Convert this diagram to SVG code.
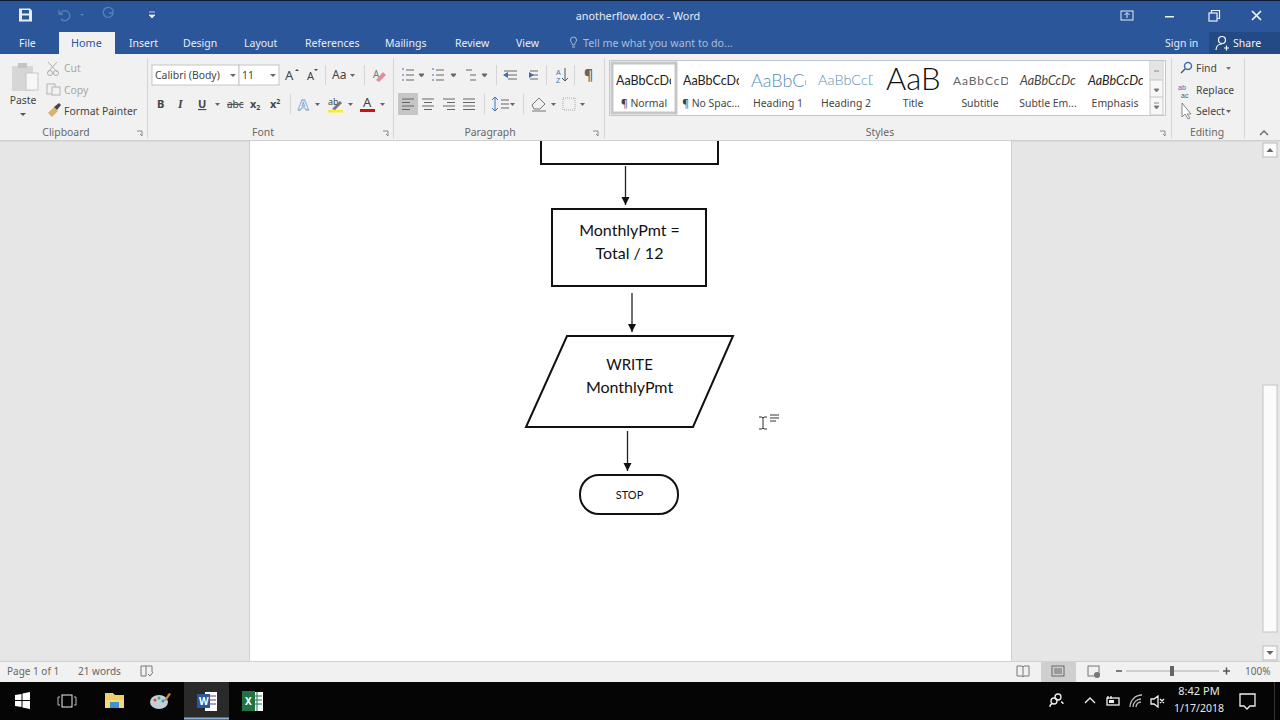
<svg xmlns="http://www.w3.org/2000/svg" width="1280" height="720" viewBox="0 0 1280 720">
<style>
text{font-family:"Noto Sans","Open Sans","Liberation Sans",sans-serif;font-size:10.4px;fill:#444}
.t{fill:#e6ecf5;font-size:10.5px}
.g{fill:#666}
.d{fill:#a8a8a8}
.m{text-anchor:middle}
.c{font-family:Lato,"Liberation Sans",sans-serif;font-size:16px;fill:#111;text-anchor:middle}
.sh{fill:#fff;stroke:#111;stroke-width:2}
.cn{stroke:#222;stroke-width:1.3;fill:none;marker-end:url(#a)}
.i{fill:none;stroke:#555;stroke-width:1}
.sep{stroke:#d4d4d4;stroke-width:1}
.w{fill:none;stroke:#f0f0f0;stroke-width:1.3}
.s{font-family:Lato,"Liberation Sans",sans-serif}
</style>
<defs>
<marker id="a" markerUnits="userSpaceOnUse" markerWidth="9" markerHeight="9" refX="8" refY="4" orient="auto"><path d="M0 0L8 4L0 8Z" fill="#111"/></marker>
<clipPath id="c1"><rect x="614" y="68" width="57" height="24"/></clipPath>
<clipPath id="c2"><rect x="681" y="68" width="58" height="24"/></clipPath>
<clipPath id="c3"><rect x="749" y="68" width="57" height="24"/></clipPath>
<clipPath id="c4"><rect x="816" y="68" width="57" height="24"/></clipPath>
<clipPath id="c5"><rect x="880" y="67" width="64" height="25"/></clipPath>
<clipPath id="c6"><rect x="951" y="68" width="57" height="24"/></clipPath>
<clipPath id="c7"><rect x="1018" y="68" width="58" height="24"/></clipPath>
<clipPath id="c8"><rect x="1086" y="68" width="57" height="24"/></clipPath>
</defs>
<g id="window-bg">
<rect width="1280" height="720" fill="#e6e6e6"/>
<rect width="1280" height="54" fill="#2b579a"/>
<rect width="1280" height="1" fill="#0c1a33"/>
<rect y="54" width="1280" height="86" fill="#f1f1f1"/>
<rect y="140" width="1280" height="1.5" fill="#cfcfcf"/>
<rect x="250" y="141" width="761" height="520" fill="#fff"/>
<rect x="249" y="141" width="1" height="520" fill="#d0d0d0"/>
<rect x="1011" y="141" width="1" height="520" fill="#d0d0d0"/>
</g>
<g id="title-bar">
<path d="M19 8.500h11l2 2v11h-13z" fill="#e8edf5"/><rect x="22" y="10" width="7" height="3.500" fill="#2b579a"/><rect x="22" y="15.500" width="7" height="4" fill="#2b579a"/>
<path d="M60 14a5 5 0 1 1 1 5M59 10v4h4" fill="none" stroke="#5f80b3" stroke-width="1.300"/>
<path d="M80 14h4l-2 2z" fill="#5f80b3"/>
<path d="M113 14a5 5 0 1 1-1-5M113 9v4h-4" fill="none" stroke="#5f80b3" stroke-width="1.300"/>
<path d="M149 12h6M149 15h6l-3 3z" fill="#e6ecf5" stroke="#e6ecf5" stroke-width=".8"/>
<text class="t m" x="638" y="20" style="font-size:10.800px">anotherflow.docx - Word</text>
<rect x="1121" y="11" width="12" height="9" fill="none" stroke="#e6ecf5"/><path d="M1127 18v-5M1124.500 15l2.500-2.500 2.500 2.500" fill="none" stroke="#e6ecf5"/>
<rect x="1165" y="16" width="9" height="1.500" fill="#f0f0f0"/>
<rect x="1209" y="13" width="8" height="8" fill="none" stroke="#f0f0f0" stroke-width="1.200"/><path d="M1211.500 13v-2.500h8v8h-2.500" fill="none" stroke="#f0f0f0" stroke-width="1.200"/>
<path d="M1252 11l9 9M1261 11l-9 9" stroke="#f5f5f5" stroke-width="1.700"/>
</g>
<g id="tabs">
<rect x="59" y="32" width="56" height="22" fill="#f1f1f1"/>
<text class="t" x="19" y="47">File</text>
<text x="71" y="47" style="font-size:10.800px;fill:#2b579a">Home</text>
<text class="t" x="129" y="47">Insert</text>
<text class="t" x="183" y="47">Design</text>
<text class="t" x="244" y="47">Layout</text>
<text class="t" x="305" y="47">References</text>
<text class="t" x="385" y="47">Mailings</text>
<text class="t" x="455" y="47">Review</text>
<text class="t" x="516" y="47">View</text>
<path d="M572 47h3M570.500 40a3 3 0 1 1 6 0c0 2-2 3-2 5h-2c0-2-2-3-2-5z" fill="none" stroke="#a9bcd8"/>
<text x="583" y="47" style="font-size:10.700px;fill:#a9bcd8">Tell me what you want to do...</text>
<text class="t" x="1165" y="47">Sign in</text>
<rect x="1209" y="32" width="71" height="22" fill="#234a85"/>
<circle cx="1222" cy="40" r="3.500" fill="none" stroke="#fff" stroke-width="1.200"/><path d="M1216 50c0-4 3-6 6-6M1224 48h5M1226.500 45.500v5" fill="none" stroke="#fff" stroke-width="1.200"/>
<text x="1233" y="47" style="font-size:10.500px;fill:#f0f0f0">Share</text>
</g>
<g id="clipboard">
<rect x="12" y="66" width="21" height="25" fill="#d6d6d6"/><rect x="26" y="73" width="12" height="17" fill="#f7f7f7" stroke="#c8c8c8"/><rect x="18" y="63" width="9" height="5" fill="#c4c4c4"/>
<text class="m" x="23" y="104">Paste</text><path d="M20 113h6l-3 3z" fill="#555"/>
<path d="M48 62l9 10M57 62l-9 10" stroke="#b0b0b0"/><circle cx="50" cy="73" r="2.500" class="i" style="stroke:#b0b0b0"/><circle cx="56" cy="73" r="2.500" class="i" style="stroke:#b0b0b0"/>
<text class="d" x="64" y="72">Cut</text>
<rect x="47" y="84" width="8" height="10" fill="none" stroke="#b4b4b4"/><rect x="52" y="87" width="8" height="8" fill="#f1f1f1" stroke="#b4b4b4"/>
<text class="d" x="64" y="94">Copy</text>
<path d="M48 113l6-6 4 4-6 6z" fill="#d8b468"/><path d="M54 107l5-4 2 2-4 5z" fill="#444"/>
<text x="64" y="115">Format Painter</text>
<text class="g m" x="66" y="136">Clipboard</text>
<path d="M137 131h5v5M140 134l2 2" class="i" style="stroke:#888"/>
<line class="sep" x1="147.500" y1="58" x2="147.500" y2="138"/>
</g>
<g id="font">
<rect x="152" y="65" width="87" height="20" fill="#fff" stroke="#c6c6c6"/><rect x="239" y="65" width="40" height="20" fill="#fff" stroke="#c6c6c6"/>
<text x="155" y="79">Calibri (Body)</text><path d="M230 74h6l-3 3z" fill="#666"/>
<text x="242" y="79">11</text><path d="M270 74h6l-3 3z" fill="#666"/>
<text x="285" y="80" style="font-size:13px">A</text><path d="M295 71l2-2 2 2z" fill="#444"/>
<text x="307" y="80" style="font-size:11px">A</text><path d="M314 69h4l-2 2z" fill="#444"/>
<line class="sep" x1="325.500" y1="65" x2="325.500" y2="85"/>
<text x="332" y="79" style="font-size:12px">Aa</text><path d="M350 74h5l-2.500 3z" fill="#666"/>
<line class="sep" x1="364.500" y1="65" x2="364.500" y2="85"/>
<text x="373" y="78" style="font-size:10px;fill:#777">A</text><path d="M376 80l7-8 3 3-7 7z" fill="#e88a9a"/>
<text x="157" y="108" style="font-weight:bold;font-size:11px">B</text>
<text x="178" y="108" style="font-style:italic;font-family:'Liberation Serif',serif;font-size:12px;font-weight:bold">I</text>
<text x="198" y="108" style="font-weight:bold;font-size:11px;text-decoration:underline">U</text><path d="M215 103h5l-2.500 3z" fill="#666"/>
<text x="227" y="108" style="font-size:10px;text-decoration:line-through">abc</text>
<text x="250" y="108" style="font-weight:bold;font-size:11px">x<tspan dy="2" style="font-size:7px">2</tspan></text>
<text x="270" y="108" style="font-weight:bold;font-size:11px">x<tspan dy="-4" style="font-size:7px">2</tspan></text>
<line class="sep" x1="290.500" y1="94" x2="290.500" y2="114"/>
<text x="298" y="110" style="font-size:15px;font-weight:bold;fill:#fff;stroke:#6f9bd1;stroke-width:.8">A</text><path d="M315 103h5l-2.500 3z" fill="#666"/>
<text x="328" y="105" style="font-size:9px">ab</text><path d="M332 109l8-8 2 2-7 7z" fill="#777"/><rect x="328" y="110" width="15" height="2.500" fill="#f5ee30"/><path d="M348 103h5l-2.500 3z" fill="#666"/>
<text x="363" y="107" style="font-size:13px;fill:#444">A</text><rect x="360" y="109" width="15" height="3" fill="#d01010"/><path d="M380 103h5l-2.500 3z" fill="#666"/>
<text class="g m" x="263" y="136">Font</text>
<path d="M383 131h5v5M386 134l2 2" class="i" style="stroke:#888"/>
<line class="sep" x1="393.500" y1="58" x2="393.500" y2="138"/>
</g>
<g id="paragraph">
<path d="M406 70h8M406 75h8M406 80h8M419 74h5l-2.500 3zM436 70h8M436 75h8M436 80h8M451 74h5l-2.500 3zM466 70h6M470 75h6M470 80h6M482 74h5l-2.500 3z" stroke="#666" fill="#666"/>
<path d="M402 69h2M402 75h2M402 80h2M432 69h2M432 75h2M432 80h2" stroke="#3f6fb0"/>
<line class="sep" x1="496.500" y1="65" x2="496.500" y2="85"/>
<path d="M504 75h13M504 71h13M508 79h9M530 71h8M530 75h8M530 79h8" stroke="#666"/><path d="M503 75l5-3v6zM529 72l5 3-5 3z" fill="#3f6fb0"/>
<line class="sep" x1="546.500" y1="65" x2="546.500" y2="85"/>
<text x="556" y="75" style="font-family:'Liberation Sans',sans-serif;font-size:7px;fill:#3f6fb0">A</text><text x="556" y="83" style="font-family:'Liberation Sans',sans-serif;font-size:7px;fill:#3f6fb0">Z</text><path d="M565 68v13M562 78l3 3 3-3" fill="none" stroke="#555"/>
<line class="sep" x1="574.500" y1="65" x2="574.500" y2="85"/>
<text x="584" y="80" style="font-size:14px;font-weight:bold;fill:#666">¶</text>
<rect x="398" y="93" width="20" height="22" fill="#c6c6c6"/>
<path d="M402 99h12M402 102.500h8M402 106h12M402 109.500h8M422 99h12M424 102.500h8M422 106h12M424 109.500h8M443 99h12M447 102.500h8M443 106h12M447 109.500h8M463 99h12M463 102.500h12M463 106h12M463 109.500h12" stroke="#666"/>
<line class="sep" x1="484.500" y1="94" x2="484.500" y2="114"/>
<path d="M495 97v14M492 100l3-3 3 3M492 108l3 3 3-3" fill="none" stroke="#3f6fb0"/><path d="M501 100h8M501 104h8M501 108h8" stroke="#666"/><path d="M510 103h5l-2.500 3z" fill="#666"/>
<line class="sep" x1="523.500" y1="94" x2="523.500" y2="114"/>
<path d="M532 105l7-7 6 6-5 5h-6zM532 111h14" fill="none" stroke="#777"/><path d="M551 103h5l-2.500 3z" fill="#666"/>
<rect x="563" y="98" width="12" height="12" fill="none" stroke="#aaa" stroke-dasharray="1 1"/><path d="M580 103h5l-2.500 3z" fill="#666"/>
<text class="g m" x="490" y="136">Paragraph</text>
<path d="M593 131h5v5M596 134l2 2" class="i" style="stroke:#888"/>
<line class="sep" x1="604.500" y1="58" x2="604.500" y2="138"/>
</g>
<g id="styles">
<rect x="609.500" y="60.500" width="556" height="55" fill="#fff" stroke="#c6c6c6"/>
<rect x="612" y="63" width="64" height="50" fill="#fff" stroke="#c6c6c6" stroke-width="3"/>
<text class="s" clip-path="url(#c1)" x="616" y="85" style="font-size:12.500px;fill:#222">AaBbCcDc</text>
<text class="s" clip-path="url(#c2)" x="683" y="85" style="font-size:12.500px;fill:#222">AaBbCcDc</text>
<text class="s" clip-path="url(#c3)" x="751" y="87" style="font-size:18px;font-weight:300;fill:#5a8fb5">AaBbCc</text>
<text class="s" clip-path="url(#c4)" x="818" y="85" style="font-size:14.500px;font-weight:300;fill:#5a8fb5">AaBbCcD</text>
<text class="s" clip-path="url(#c5)" x="886" y="90" style="font-size:31px;font-weight:300;fill:#111">AaB</text>
<text class="s" clip-path="url(#c6)" x="953" y="85" style="font-size:12px;letter-spacing:.9px;fill:#666">AaBbCcD</text>
<text class="s" clip-path="url(#c7)" x="1020" y="85" style="font-size:12.500px;font-style:italic;fill:#444">AaBbCcDc</text>
<text class="s" clip-path="url(#c8)" x="1088" y="85" style="font-size:12.500px;font-style:italic;fill:#222">AaBbCcDc</text>
<text class="m" x="644" y="107">¶ Normal</text>
<text class="m" x="711" y="107">¶ No Spac...</text>
<text class="m" x="778" y="107">Heading 1</text>
<text class="m" x="846" y="107">Heading 2</text>
<text class="m" x="913" y="107">Title</text>
<text class="m" x="980" y="107">Subtitle</text>
<text class="m" x="1048" y="107">Subtle Em...</text>
<text class="m" x="1115" y="107">Emphasis</text>
<rect x="1150" y="61" width="13" height="54" fill="#f7f7f7" stroke="#c6c6c6"/>
<rect x="1150.500" y="61" width="12" height="19" fill="#e4e4e4"/>
<path d="M1154 71h5M1154 89h5l-2.500 3zM1154 103h5M1154 106h5l-2.500 3z" stroke="#888" fill="#666"/>
<path d="M1150 80h13M1150 97h13" stroke="#c6c6c6"/>
<text class="g m" x="880" y="136">Styles</text>
<path d="M1160 131h5v5M1163 134l2 2" class="i" style="stroke:#888"/>
<line class="sep" x1="1171.500" y1="58" x2="1171.500" y2="138"/>
</g>
<g id="editing">
<circle cx="1188" cy="66" r="3.500" fill="none" stroke="#3f6fb0" stroke-width="1.500"/><path d="M1185 69l-4 4" stroke="#555" stroke-width="1.500"/>
<text x="1196" y="72">Find</text><path d="M1226 67h5l-2.500 3z" fill="#777"/>
<text x="1178" y="90" style="font-family:'Liberation Sans',sans-serif;font-size:7px;fill:#3f6fb0">ab</text><text x="1181" y="98" style="font-family:'Liberation Sans',sans-serif;font-size:7px;fill:#555">ac</text>
<text x="1196" y="94">Replace</text>
<path d="M1182 103v14l3-3 3 5 2-1-3-4h4z" fill="#fff" stroke="#888"/>
<text x="1196" y="115">Select</text><path d="M1226 110h5l-2.500 3z" fill="#666"/>
<text class="g m" x="1207" y="136">Editing</text>
<line class="sep" x1="1244.500" y1="58" x2="1244.500" y2="138"/>
<path d="M1260 135l4-4 4 4" fill="none" stroke="#666" stroke-width="1.300"/>
</g>
<g id="scrollbar">
<rect x="1263" y="143" width="14" height="14" fill="#fbfbfb" stroke="#bbb"/><path d="M1266.500 152l3.500-4 3.500 4z" fill="#666"/>
<rect x="1263" y="385" width="14" height="247" fill="#fbfbfb" stroke="#c4c4c4"/>
<rect x="1263" y="646" width="14" height="14" fill="#fbfbfb" stroke="#bbb"/><path d="M1266.500 651l3.500 4 3.500-4z" fill="#666"/>
</g>
<g id="connectors">
<line class="cn" x1="625.500" y1="166" x2="625.500" y2="205"/>
<line class="cn" x1="632" y1="293" x2="632" y2="332"/>
<line class="cn" x1="627.500" y1="431" x2="627.500" y2="471"/>
</g>
<g id="node-top"><path class="sh" d="M541 141V164H718V141"/></g>
<g id="node-monthly"><rect class="sh" x="552" y="209" width="154" height="77"/><text class="c" x="629.500" y="236">MonthlyPmt =</text><text class="c" x="629.500" y="259">Total / 12</text></g>
<g id="node-write"><path class="sh" d="M567 336H733L693 427H526Z"/><text class="c" x="629.500" y="370" style="font-size:15px">WRITE</text><text class="c" x="629.500" y="393">MonthlyPmt</text></g>
<g id="node-stop"><rect class="sh" x="580" y="475" width="98" height="39" rx="19" ry="19"/><text class="m" x="629.500" y="499" style="font-family:Lato,'Liberation Sans',sans-serif;font-size:11px;fill:#111">STOP</text></g>
<g id="cursor"><path d="M759 417h3l1 1 1-1h3M763 418v10M759 429h3l1-1 1 1h3" fill="none" stroke="#333"/><path d="M770 415h9M770 418h9M770 421h6" stroke="#333"/></g>
<g id="status-bar">
<rect y="661" width="1280" height="21" fill="#f1f1f1"/><rect y="661" width="1280" height="1" fill="#d0d0d0"/>
<text class="g" x="7" y="675" style="font-size:10px">Page 1 of 1</text><text class="g" x="78" y="675" style="font-size:10px">21 words</text>
<path d="M141 666h5v10h-5zM146 666h6v6M148 674l2 2 3-4" fill="none" stroke="#777"/>
<rect x="1041" y="662" width="35" height="20" fill="#cfcfcf"/>
<path d="M1017 666h5l1 1 1-1h5v10h-5l-1 1-1-1h-5zM1023 667v10" fill="none" stroke="#777"/>
<rect x="1052" y="666" width="12" height="10" fill="none" stroke="#666"/><path d="M1054 669h8M1054 671h8M1054 673h8" stroke="#666"/>
<rect x="1088" y="666" width="11" height="10" fill="none" stroke="#777"/><circle cx="1097" cy="675" r="3" fill="#777"/>
<path d="M1116 671h6M1223 671h7M1226.500 667.500v7" stroke="#555" stroke-width="1.500"/>
<line x1="1126" y1="671" x2="1219" y2="671" stroke="#aaa"/><rect x="1170" y="666" width="4" height="10" fill="#666"/>
<text class="g" x="1245" y="675" style="font-size:10px">100%</text>
</g>
<g id="taskbar">
<rect y="682" width="1280" height="38" fill="#050505"/>
<rect x="184" y="682" width="45" height="38" fill="#2a2a2a"/><rect x="184" y="717.500" width="45" height="2" fill="#8fb0d8"/>
<path d="M15 695l6.500-1v6h-6.500zM22.500 693.500l7.500-1.500v8h-7.500zM15 701h6.500v6l-6.500-1zM22.500 701h7.500v8l-7.500-1.500z" fill="#fff"/>
<rect x="62" y="695" width="10" height="12" fill="none" stroke="#eee"/><path d="M60 697h-2v8h2M74 697h2v8h-2" fill="none" stroke="#bbb"/>
<path d="M105 693h8l2 2h9v13h-19z" fill="#f0cf6a"/><rect x="105" y="700" width="19" height="8" fill="#f5d97f"/><rect x="110" y="702" width="9" height="6" fill="#3d94c8"/>
<ellipse cx="159" cy="702" rx="9" ry="7" fill="#c7cfd6"/><circle cx="155" cy="700" r="1.500" fill="#d43"/><circle cx="159" cy="698" r="1.500" fill="#3a8"/><circle cx="163" cy="701" r="1.500" fill="#39c"/><path d="M164 700l5-7 2 1-5 7z" fill="#c98a3a"/>
<rect x="205" y="692" width="12" height="19" fill="#fff"/><path d="M209 696h7M209 700h7M209 704h7" stroke="#456"/><rect x="197" y="694" width="13" height="14" fill="#2b579a"/><text x="199" y="705" style="font-size:10px;font-weight:bold;fill:#fff">W</text>
<rect x="251" y="692" width="12" height="19" fill="#fff"/><path d="M253 696h9M253 700h9M253 704h9M257 692v19" stroke="#217346"/><rect x="242" y="691" width="13" height="20" fill="#217346"/><text x="245" y="705" style="font-size:10px;font-weight:bold;fill:#fff">X</text>
<circle cx="1058" cy="697" r="3" class="w"/><circle cx="1054" cy="701" r="3" class="w"/><path d="M1050 707c0-2 1-3 2-3M1061 702c1 0 2 1 2 2" class="w"/>
<path d="M1085 703l5-5 5 5" class="w"/>
<rect x="1107" y="698" width="12" height="7" class="w"/><rect x="1109" y="700" width="5" height="3" fill="#f0f0f0"/><path d="M1108 696v3M1111 696v3" class="w"/>
<path d="M1130 707a12 12 0 0 1 12-12M1133 707a8 8 0 0 1 8-8M1136 707a5 5 0 0 1 5-5" class="w" style="stroke:#bbb"/>
<path d="M1151 699h3l4-3v11l-4-3h-3zM1160 699l4 4M1164 699l-4 4" class="w"/>
<text x="1199" y="695" class="m" style="fill:#e8e8e8;font-size:11px">8:42 PM</text>
<text x="1199" y="712" class="m" style="fill:#e8e8e8;font-size:10.500px">1/17/2018</text>
<path d="M1240 694h15v12h-5l-3 3-3-3h-4z" class="w"/>
<rect x="1274" y="682" width="1" height="38" fill="#333"/>
</g>
</svg>
